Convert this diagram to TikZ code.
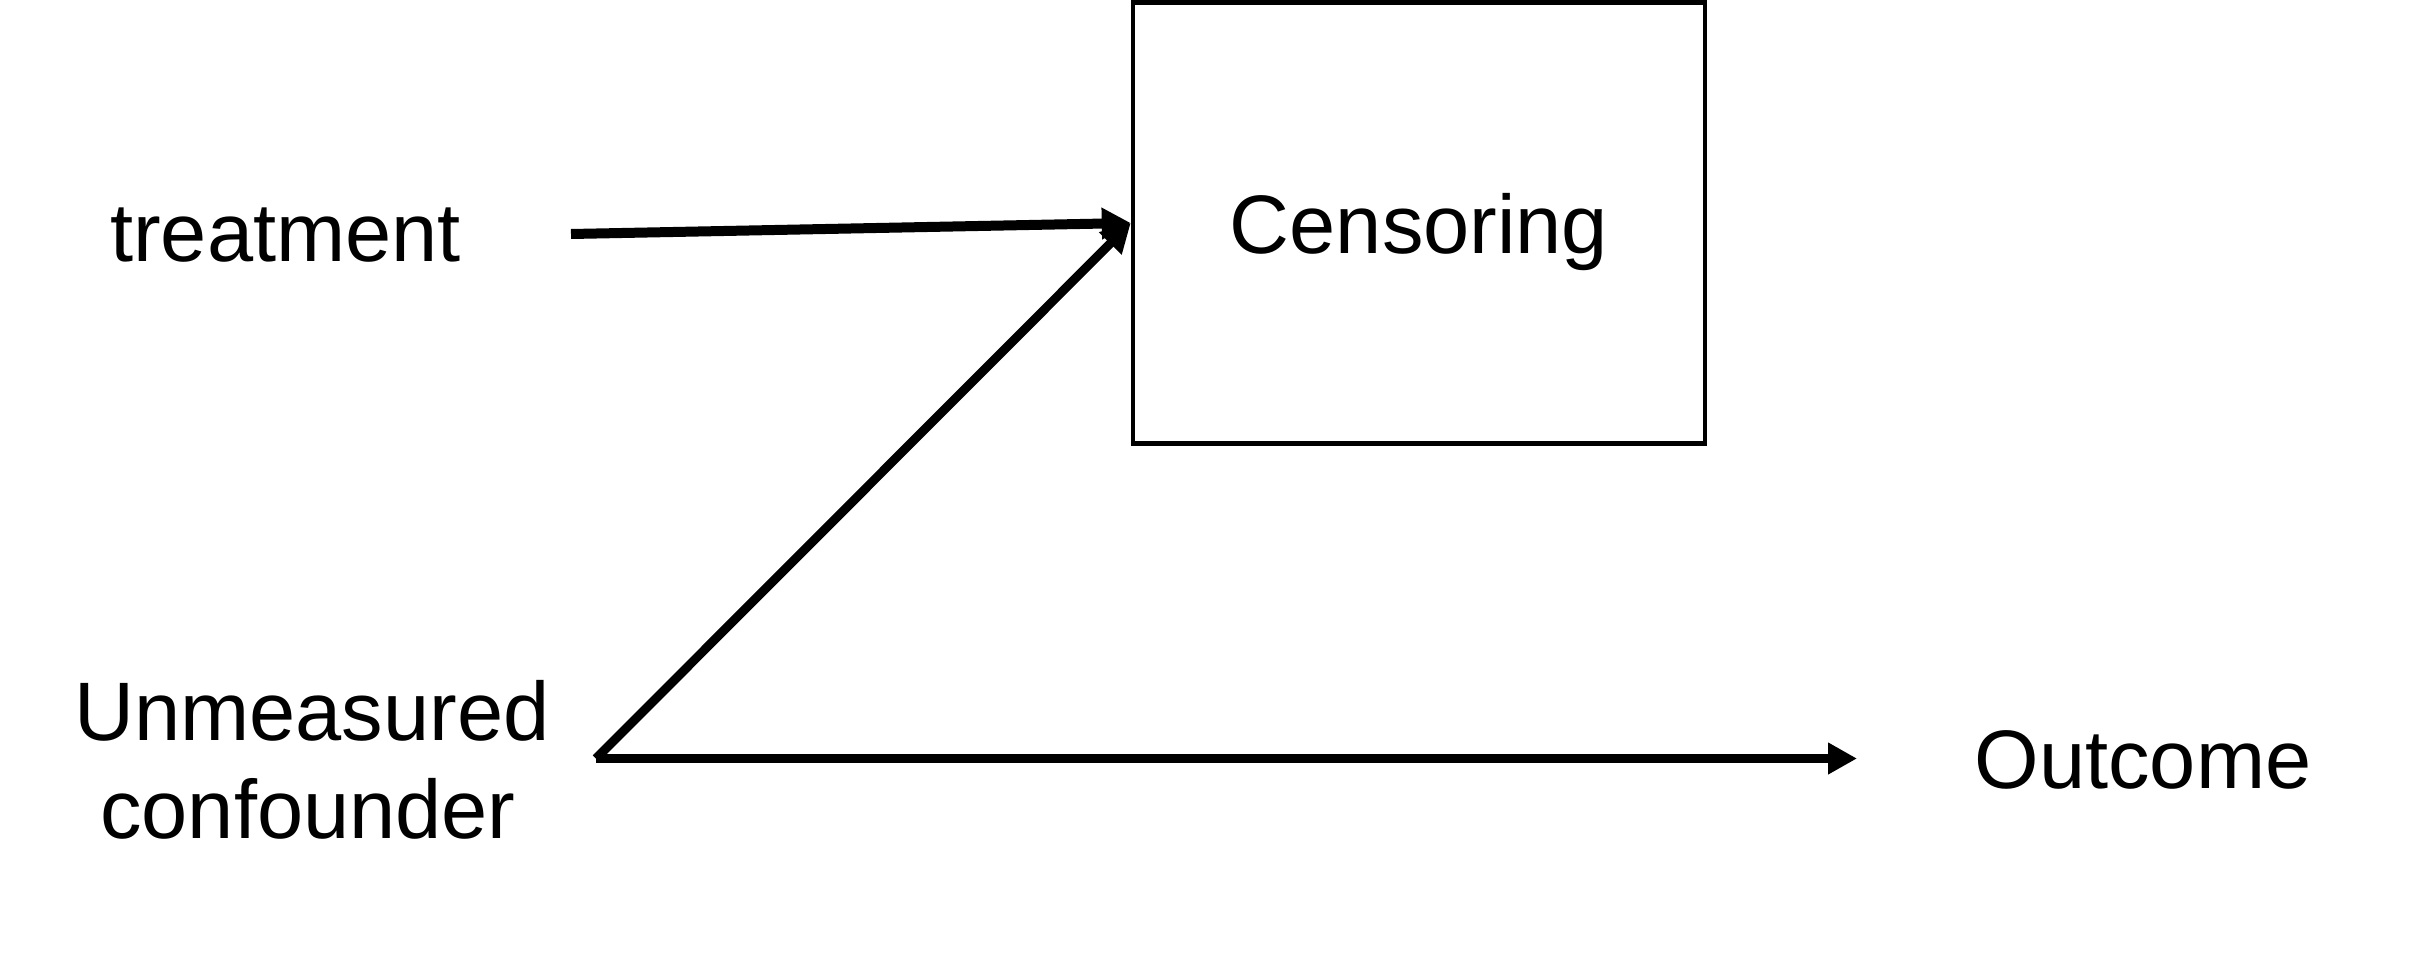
\documentclass[tikz,border=0pt]{standalone}
\usepackage{fontspec}
\setmainfont{Liberation Sans}
\usetikzlibrary{arrows.meta}
\tikzset{
  lbl/.style={inner sep=0pt, outer sep=0pt, font=\fontsize{83pt}{98pt}\selectfont},
  boxnode/.style={draw, line width=4.5pt, inner sep=0pt, minimum width=572pt, minimum height=441pt,
    text height=60pt, text depth=0pt, font=\fontsize{83pt}{98pt}\selectfont},
  arr/.style={line width=#1, -{Triangle[length=29pt,width=30pt]}},
  arr/.default=9pt
}
\begin{document}
\begin{tikzpicture}[x=1pt,y=-1pt]
\useasboundingbox (0,0) rectangle (2430,979);
\node[boxnode] (cens) at (1419,223) {Censoring};
\node[lbl, anchor=base] (treat) at (285.5,261) {treatment};
\node[lbl, anchor=base] (uc1) at (312,740) {Unmeasured};
\node[lbl, anchor=base] (uc2) at (308,838) {confounder};
\node[lbl, anchor=base] (out) at (2143,788) {Outcome};
\coordinate (ts) at (571,234);
\coordinate (us) at (596,758.5);
\coordinate (ue) at (1857,758.5);
\draw[arr=10pt] (ts) -- (cens.west);
\draw[arr=9pt] (us) -- (cens.west);
\draw[arr=9pt] (us) -- (ue);
\end{tikzpicture}
\end{document}
